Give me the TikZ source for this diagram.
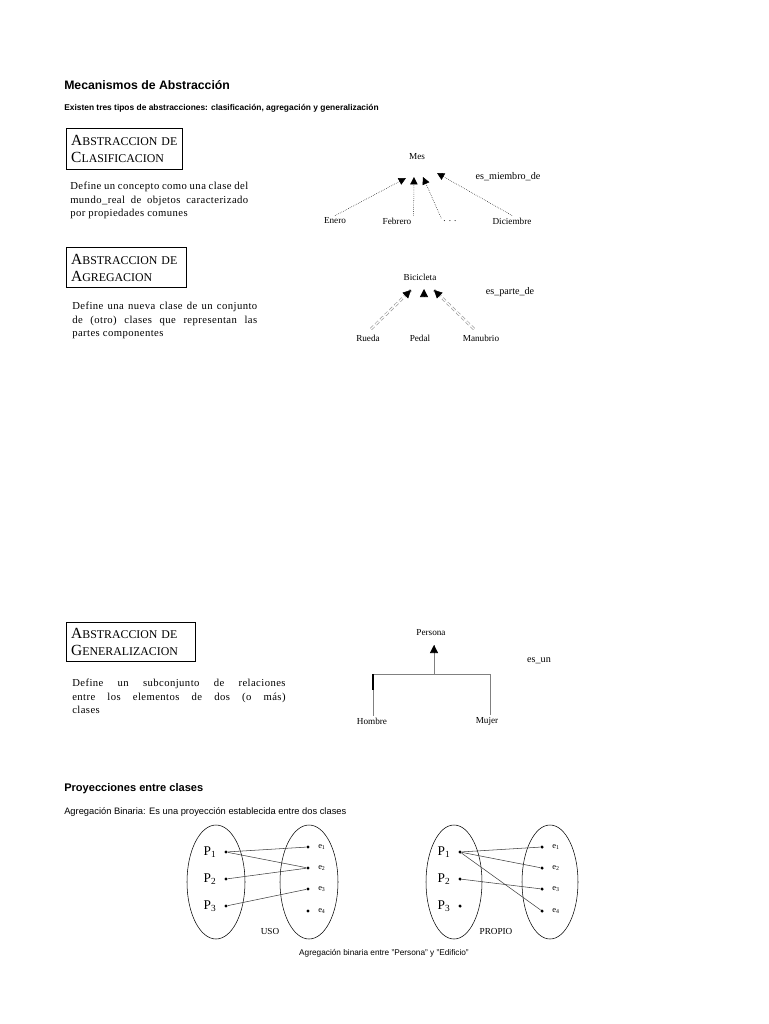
\documentclass[tikz,border=0pt]{standalone}
\usepackage{fontspec}
\setmainfont{Liberation Serif}
\setsansfont{Liberation Sans}
\newfontfamily\parafont[LetterSpace=4]{Liberation Serif}
\usetikzlibrary{arrows.meta,positioning,calc}

% fake small caps: big first letter, smaller rest
\newcommand{\scap}[2]{{\fontsize{11.6}{12}\selectfont #1}{\fontsize{8.9}{10}\selectfont #2}}

\begin{document}
\begin{tikzpicture}[x=0.75pt,y=-0.75pt,
ttl/.style={anchor=west,inner sep=0pt,font=\sffamily\bfseries\fontsize{9.2}{11}\selectfont},
intro/.style={anchor=west,inner sep=0pt,font=\sffamily\bfseries\fontsize{6.3}{7}\selectfont},
sub/.style={anchor=west,inner sep=0pt,font=\sffamily\fontsize{7}{8}\selectfont},
kind/.style={draw,line width=0.8pt,anchor=north west,inner xsep=3.5pt,align=left,
  font=\rmfamily\fontsize{8.9}{12.75}\selectfont},
para/.style={anchor=north west,inner sep=0pt,align=left,
  font=\parafont\fontsize{8}{10.1}\selectfont},
lbl/.style={font=\rmfamily\fontsize{6.9}{8}\selectfont,inner sep=1.5pt},
rel/.style={font=\rmfamily\fontsize{7.6}{9}\selectfont,inner sep=0pt},
member/.style={densely dotted,line width=0.4pt,-{Triangle[length=5.5pt,width=5.5pt]}},
part/.style={draw=gray!80,double=white,double distance=1pt,line width=0.5pt},
tip/.style={-{Triangle[length=6pt,width=6pt]}},
gen/.style={gray,line width=0.6pt},
set/.style={line width=0.4pt},
dot/.style={circle,fill,inner sep=0pt,minimum size=2.6pt},
pl/.style={font=\rmfamily\fontsize{10}{11}\selectfont,inner sep=0pt},
el/.style={font=\rmfamily\fontsize{6.3}{7}\selectfont,inner sep=0pt,anchor=west},
map/.style={line width=0.4pt,black!75}]
\fill[white] (0,0) rectangle (768,1024);
\useasboundingbox (0,0) rectangle (768,1024);

\node[ttl](mec) at (64,85) {Mecanismos de Abstracción};
\node[intro](exi) at (64,108) {Existen tres tipos de abstracciones: clasificación, agregación y generalización};

% clasificacion
\node[kind](bc) at (66,128) [text width=80pt,minimum height=30.75pt] {\scap{A}{BSTRACCION DE}\\\scap{C}{LASIFICACION}};
\node[para](dc) at (70,182) {\makebox[133.5pt][s]{Define un concepto como una clase del}\\
\makebox[133.5pt][s]{mundo\_real de objetos caracterizado}\\
por propiedades comunes};
\node[lbl](mes) at (417,157) {Mes};
\node[lbl](enero) at (335,221) {Enero};
\node[lbl](feb) at (397,221) {Febrero};
\node[lbl](etc) at (450,221) {. . .};
\node[lbl](dic) at (512,221) {Diciembre};
\node[rel](miem) at (508,177) {es\_miembro\_de};
\coordinate (m1) at (406,178);
\coordinate (m2) at (414,177);
\coordinate (m3) at (423,177);
\coordinate (m4) at (437,173);
\draw[member] (enero.north) -- (m1);
\draw[member] (feb.north east) -- (m2);
\draw[member] (etc.north west) -- (m3);
\draw[member] (dic.north) -- (m4);

% agregacion
\node[kind](ba) at (66,247) [text width=83pt,minimum height=30pt] {\scap{A}{BSTRACCION DE}\\\scap{A}{GREGACION}};
\node[para](da) at (72,302) {\makebox[138.75pt][s]{Define una nueva clase de un conjunto}\\
\makebox[138.75pt][s]{de (otro) clases que representan las}\\
partes componentes};
\node[lbl](bici) at (420,277) {Bicicleta};
\node[lbl](rueda) at (368,338) {Rueda};
\node[lbl](pedal) at (420,338) {Pedal};
\node[lbl](manu) at (481,338) {Manubrio};
\node[rel](parte) at (510,292) {es\_parte\_de};
\coordinate (a1) at (411,290);
\coordinate (a2) at (424,289);
\coordinate (a3) at (434,290);
\coordinate (r0) at (371,329);
\coordinate (d0) at (424,330);
\coordinate (u0) at (474,329);
\draw[part,densely dashed] (r0) -- (a1);
\draw[part,draw=black!70] (d0) -- (a2);
\draw[part,densely dashed] (u0) -- (a3);
\draw[tip] ($(r0)!0.85!(a1)$) -- (a1);
\draw[tip] ($(d0)!0.85!(a2)$) -- (a2);
\draw[tip] ($(u0)!0.85!(a3)$) -- (a3);

% generalizacion
\node[kind](bg) at (66,622) [text width=89.75pt,minimum height=29.25pt] {\scap{A}{BSTRACCION DE}\\\scap{G}{ENERALIZACION}};
\node[para](dg) at (72,679) {\makebox[160pt][s]{Define un subconjunto de relaciones}\\
\makebox[160pt][s]{entre los elementos de dos (o más)}\\
clases};
\node[lbl](pers) at (431,633) {Persona};
\node[lbl](hom) at (372,721) {Hombre};
\node[lbl](muj) at (487,721) {Mujer};
\node[rel](esun) at (539,661) {es\_un};
\coordinate (g0) at (434,645);
\coordinate (gj) at (434,674);
\coordinate (gl) at (373,674);
\coordinate (gr) at (490,674);
\coordinate (gk) at (373,690);
\draw[gen] (gj) -- (g0);
\draw[tip] ($(gj)!0.75!(g0)$) -- (g0);
\draw[gen] (gl) -- (gr);
\draw[gen] (gl) -- (gl |- hom.north);
\draw[gen] (gr) -- (gr |- muj.north);
\draw[line width=0.8pt] (gl) -- (gk);

% proyecciones
\node[ttl,font=\sffamily\bfseries\fontsize{8.3}{10}\selectfont](proy) at (64,789) {Proyecciones entre clases};
\node[sub](bin) at (64,812) {Agregación Binaria: Es una proyección establecida entre dos clases};

% uso
\draw[set] (216,882) ellipse [x radius=29,y radius=57];
\draw[set] (309,882) ellipse [x radius=29,y radius=57];
\foreach \i/\y in {1/852,2/879,3/906}{
  \node[pl](pu\i) at (210,\y) {P\textsubscript{\i}};
  \node[dot](qu\i) at (226,\y) {};
}
\foreach \i/\y in {1/847,2/868,3/889,4/911}{
  \node[dot](eu\i) at (308,\y) {};
  \node[el](fu\i) at (318,\y) {e\textsubscript{\i}};
}
\node[lbl](uso) at (270,931) {USO};
\draw[map] (qu1) -- (eu1);
\draw[map] (qu1) -- (eu2);
\draw[map] (qu2) -- (eu2);
\draw[map] (qu3) -- (eu3);

% propio
\draw[set] (454,882) ellipse [x radius=28,y radius=57];
\draw[set] (550,882) ellipse [x radius=28,y radius=57];
\foreach \i/\y in {1/852,2/879,3/906}{
  \node[pl](pp\i) at (444,\y) {P\textsubscript{\i}};
  \node[dot](qp\i) at (460,\y) {};
}
\foreach \i/\y in {1/847,2/868,3/889,4/911}{
  \node[dot](ep\i) at (542,\y) {};
  \node[el](fp\i) at (552,\y) {e\textsubscript{\i}};
}
\node[lbl](prop) at (496,931) {PROPIO};
\draw[map] (qp1) -- (ep1);
\draw[map] (qp1) -- (ep2);
\draw[map] (qp1) -- (ep4);
\draw[map] (qp2) -- (ep3);

\node[sub,anchor=center,font=\sffamily\fontsize{6.2}{7}\selectfont](cap) at (384,953) {Agregación binaria entre "Persona" y "Edificio"};
\end{tikzpicture}
\end{document}
